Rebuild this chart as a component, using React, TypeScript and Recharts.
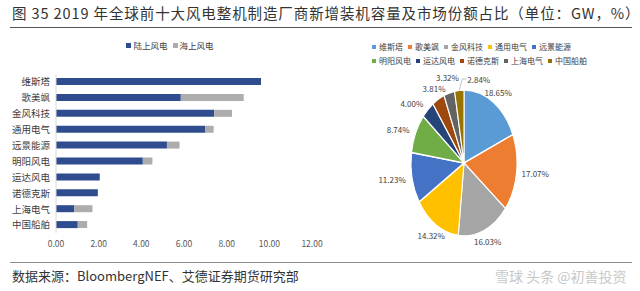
import React from 'react';
import { BarChart, Bar, XAxis, YAxis, Legend, PieChart, Pie, Cell } from 'recharts';

const categories = ['维斯塔', '歌美飒', '金风科技', '通用电气', '远景能源', '明阳风电', '运达风电', '诺德克斯', '上海电气', '中国船舶'];
const onshore = [9.61, 5.85, 7.42, 7.0, 5.2, 4.07, 2.05, 1.96, 0.85, 1.02];
const offshore = [0, 2.95, 0.83, 0.39, 0.59, 0.45, 0, 0, 0.86, 0.44];
const shares = [18.65, 17.07, 16.03, 14.32, 11.23, 8.74, 4.0, 3.81, 3.32, 2.84];
const xTicks = [0, 2, 4, 6, 8, 10, 12];
const seriesNames = ['陆上风电', '海上风电'];
const seriesColors = ['#2F4C8E', '#ADADAD'];
const pieColors = ['#5B9BD5', '#ED7D31', '#A5A5A5', '#FFC000', '#4472C4', '#70AD47', '#264478', '#9E480E', '#636363', '#997300'];

const barData = categories.map((c, i) => ({ name: c, onshore: onshore[i], offshore: offshore[i] }));
const pieData = categories.map((c, i) => ({ name: c, value: shares[i] }));

const FONT = '"Noto Sans CJK SC", "Noto Sans", sans-serif';
const S = 0.726; // horizontal squash of the pie (ellipse)
const RAD = Math.PI / 180;

const renderPieLabel = (props: any) => {
  const { cx, cy, midAngle, outerRadius, index, value } = props;
  const cos = Math.cos(-midAngle * RAD);
  const sin = Math.sin(-midAngle * RAD);
  const txt = value.toFixed(2) + '%';
  if (index === 9) {
    const ex = cx + outerRadius * cos;
    const ey = cy + outerRadius * sin;
    const lx = ex + 3 / S;
    const ly = cy - outerRadius - 11;
    const tx = lx + 5 / S;
    return (
      <g>
        <polyline points={`${ex},${ey} ${lx},${ly} ${tx - 1 / S},${ly}`} fill="none" stroke="#A6A6A6" strokeWidth={0.8} vectorEffect="non-scaling-stroke" />
        <g transform={`translate(${tx},${ly}) scale(${1 / S},1)`}>
          <text x={0} y={0} textAnchor="start" dominantBaseline="central" fontSize={8} fill="#404040" fontFamily={FONT}>{txt}</text>
        </g>
      </g>
    );
  }
  let anchor: 'start' | 'middle' | 'end' = 'middle';
  let r = outerRadius + (index === 8 ? 16 : 12);
  if (cos > 0.75) { anchor = 'start'; r = outerRadius + 7; }
  else if (cos < -0.6) { anchor = 'end'; r = outerRadius + 9; }
  const x = cx + r * cos + (index === 8 ? 2 : 0);
  const y = cy + r * sin;
  return (
    <g transform={`translate(${x},${y}) scale(${1 / S},1)`}>
      <text x={0} y={0} textAnchor={anchor} dominantBaseline="central" fontSize={8} fill="#404040" fontFamily={FONT}>{txt}</text>
    </g>
  );
};

const BarLegend = () => (
  <div style={{ display: 'flex', justifyContent: 'center', gap: 5, fontSize: 8.5, color: '#404040', fontFamily: FONT, lineHeight: '10px' }}>
    {seriesNames.map((n, i) => (
      <span key={n} style={{ display: 'inline-flex', alignItems: 'center' }}>
        <span style={{ display: 'inline-block', width: 5, height: 5, background: seriesColors[i], marginRight: 2 }} />
        {n}
      </span>
    ))}
  </div>
);

export default function App() {
  return (
    <div style={{ position: 'absolute', left: 0, top: 0, width: 640, height: 291, background: '#fff', overflow: 'hidden', fontFamily: FONT }}>
      <div style={{ position: 'absolute', left: 12, top: 3, fontSize: 14.5, letterSpacing: 0.9, color: '#333', whiteSpace: 'nowrap', lineHeight: '20px' }}>
        图 35 2019 年全球前十大风电整机制造厂商新增装机容量及市场份额占比（单位：GW，%）
      </div>
      <div style={{ position: 'absolute', left: 10, top: 27, width: 622, height: 1, background: '#555' }} />

      <div style={{ position: 'absolute', left: 0, top: 30 }}>
        <BarChart width={330} height={230} data={barData} layout="vertical" margin={{ top: 34, right: 18, bottom: 0, left: 0 }} barSize={7}>
          <XAxis type="number" domain={[0, 12]} ticks={xTicks} axisLine={false} tickLine={false} tickSize={0} tickMargin={8} height={27}
            tickFormatter={(v: number) => v.toFixed(2)} tick={{ fontSize: 8.5, fill: '#595959', fontFamily: FONT }} />
          <YAxis type="category" dataKey="name" width={56} interval={0} axisLine={{ stroke: '#D9D9D9' }} tickLine={false} tickSize={0} tickMargin={6}
            tick={{ fontSize: 9.5, fill: '#404040', fontFamily: FONT }} />
          <Legend verticalAlign="top" content={<BarLegend />}
            wrapperStyle={{ top: 10, left: 70, width: 200 }} />
          <Bar dataKey="onshore" name={seriesNames[0]} stackId="a" fill={seriesColors[0]} isAnimationActive={false} />
          <Bar dataKey="offshore" name={seriesNames[1]} stackId="a" fill={seriesColors[1]} isAnimationActive={false} />
        </BarChart>
      </div>

      <div style={{ position: 'absolute', left: 372, top: 40, width: 200, fontSize: 8, color: '#404040', lineHeight: '10px' }}>
        {[0, 5].map((start) => (
          <div key={start} style={{ display: 'flex', gap: 5, height: 14, alignItems: 'center', whiteSpace: 'nowrap' }}>
            {categories.slice(start, start + 5).map((c, j) => (
              <span key={c} style={{ display: 'inline-flex', alignItems: 'center' }}>
                <span style={{ display: 'inline-block', width: 4, height: 4, background: pieColors[start + j], marginRight: 3 }} />
                {c}
              </span>
            ))}
          </div>
        ))}
      </div>

      <div style={{ position: 'absolute', left: 324, top: 30, width: 280, height: 240, transform: `scaleX(${S})`, transformOrigin: '140px 0px' }}>
        <PieChart width={280} height={240} margin={{ top: 0, right: 0, bottom: 0, left: 0 }}>
          <Pie data={pieData} dataKey="value" cx={140} cy={133} outerRadius={73} startAngle={90} endAngle={-270}
            stroke="#fff" strokeWidth={1.5} label={renderPieLabel} labelLine={false} isAnimationActive={false}>
            {pieData.map((d, i) => <Cell key={d.name} fill={pieColors[i]} />)}
          </Pie>
        </PieChart>
      </div>

      <div style={{ position: 'absolute', left: 10, top: 262, width: 622, height: 1, background: '#8C8C8C' }} />
      <div style={{ position: 'absolute', left: 12, top: 267, fontSize: 13, color: '#333', whiteSpace: 'nowrap', lineHeight: '18px' }}>
        数据来源：BloombergNEF、艾德证券期货研究部
      </div>
      <div style={{ position: 'absolute', left: 495, top: 266, fontSize: 14, color: '#C8C8C8', whiteSpace: 'nowrap', lineHeight: '20px' }}>
        雪球 头条 @初善投资
      </div>
    </div>
  );
}
